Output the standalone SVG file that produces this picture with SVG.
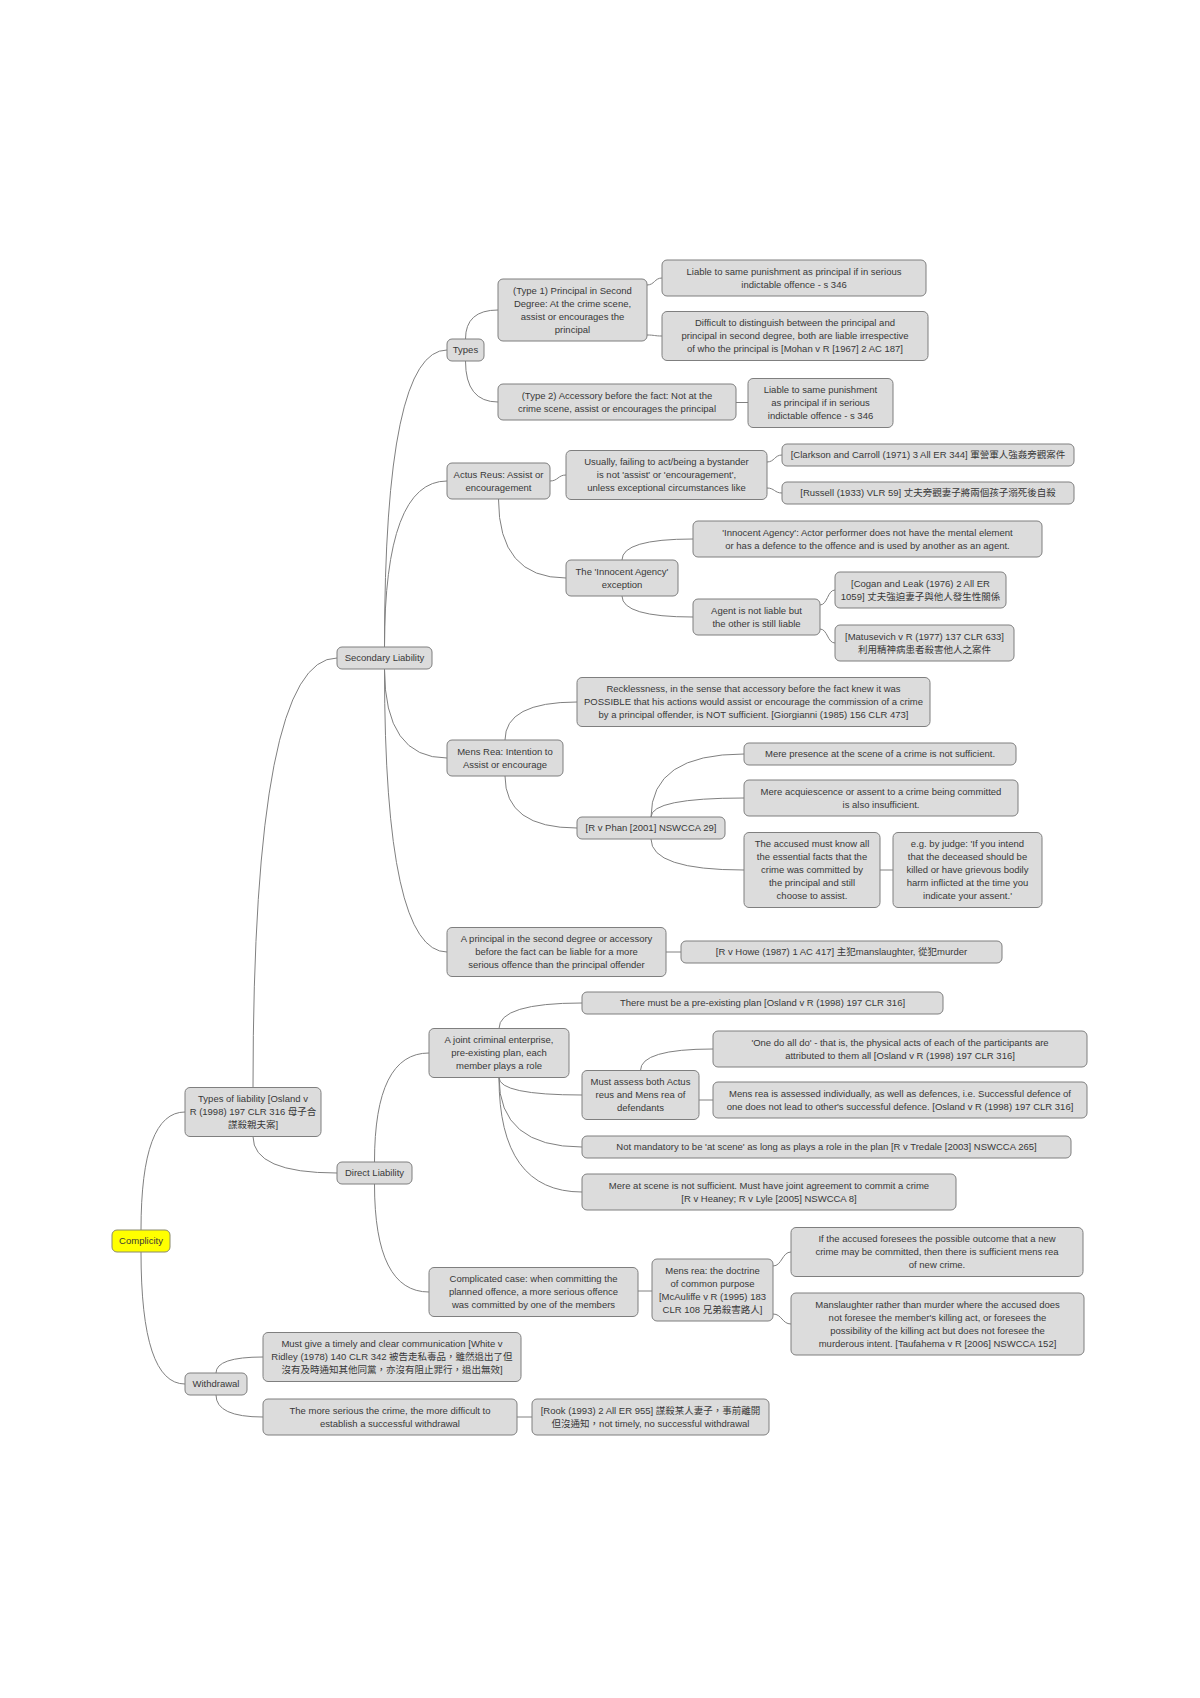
<svg xmlns="http://www.w3.org/2000/svg" width="1200" height="1698" viewBox="0 0 1200 1698">
<style>
.n rect{fill:#dcdcdc;stroke:#7f7f7f;stroke-width:1}
.root rect{fill:#ffff00;stroke:#8a8a6a;stroke-width:1}
text{font-family:"Liberation Sans","Noto Sans CJK TC",sans-serif;font-size:9.5px;fill:#383838;text-anchor:middle}
.c path{fill:none;stroke:#808080;stroke-width:1}
</style>
<rect width="1200" height="1698" fill="#ffffff"/>
<g class="c" id="connectors">
<path d="M141,1230 Q141,1112 185,1112"/>
<path d="M141,1252 Q141,1384 185,1384"/>
<path d="M253,1087.5 Q253,658 337,658"/>
<path d="M253,1136.5 Q253,1173 337,1173"/>
<path d="M384.5,647 Q384.5,350 447,350"/>
<path d="M384.5,647 Q384.5,481 447,481"/>
<path d="M384.5,669 Q384.5,758 447,758"/>
<path d="M384.5,669 Q384.5,952 447,952"/>
<path d="M465.5,339 Q465.5,310 498,310"/>
<path d="M465.5,361 Q465.5,402 498,402"/>
<path d="M647,285 C654.5,285 654.5,278 662,278"/>
<path d="M647,335 C654.5,335 654.5,336 662,336"/>
<path d="M736,402.5 L748,402.5"/>
<path d="M550,481 C558,481 558,475 566,475"/>
<path d="M498.5,499 Q498.5,578 566,578"/>
<path d="M767,462 C774.5,462 774.5,455 782,455"/>
<path d="M767,488 C774.5,488 774.5,493 782,493"/>
<path d="M622,560 Q622,539 693,539"/>
<path d="M622,596 Q622,617 693,617"/>
<path d="M820,605 C827.5,605 827.5,590 835,590"/>
<path d="M820,629 C827.5,629 827.5,643 835,643"/>
<path d="M505,740 Q505,702 577,702"/>
<path d="M505,776 Q505,828 577,828"/>
<path d="M651,817 Q651,754 744,754"/>
<path d="M651,817 Q651,798 744,798"/>
<path d="M651,839 Q651,870 744,870"/>
<path d="M880,870 L893,870"/>
<path d="M666,952 L681,952"/>
<path d="M374.5,1162 Q374.5,1053 429,1053"/>
<path d="M374.5,1184 Q374.5,1292 429,1292"/>
<path d="M499,1028.5 Q499,1003 582,1003"/>
<path d="M499,1077.5 Q499,1095 582,1095"/>
<path d="M499,1077.5 Q499,1147 582,1147"/>
<path d="M499,1077.5 Q499,1192 582,1192"/>
<path d="M640.5,1070.5 Q640.5,1049 713,1049"/>
<path d="M699,1100 L713,1100"/>
<path d="M638,1291 L652,1291"/>
<path d="M773,1266 C782,1266 782,1252 791,1252"/>
<path d="M773,1314 C782,1314 782,1324 791,1324"/>
<path d="M216,1373 Q216,1357 263,1357"/>
<path d="M216,1395 Q216,1417 263,1417"/>
<path d="M517,1417 L532,1417"/>
</g>
<g class="n root" id="complicity"><rect x="112" y="1230" width="58" height="22" rx="5"/><text x="141" y="1244">Complicity</text></g>
<g class="n" id="types-of-liability"><rect x="185" y="1087.5" width="136" height="49" rx="5"/><text x="253" y="1102">Types of liability [Osland v</text><text x="253" y="1115">R (1998) 197 CLR 316 母子合</text><text x="253" y="1128">謀殺親夫案]</text></g>
<g class="n" id="withdrawal"><rect x="185" y="1373" width="62" height="22" rx="5"/><text x="216" y="1387">Withdrawal</text></g>
<g class="n" id="secondary"><rect x="337" y="647" width="95" height="22" rx="5"/><text x="384.5" y="661">Secondary Liability</text></g>
<g class="n" id="direct"><rect x="337" y="1162" width="75" height="22" rx="5"/><text x="374.5" y="1176">Direct Liability</text></g>
<g class="n" id="types"><rect x="447" y="339" width="37" height="22" rx="5"/><text x="465.5" y="353">Types</text></g>
<g class="n" id="type1"><rect x="498" y="279" width="149" height="62" rx="5"/><text x="572.5" y="293.5">(Type 1) Principal in Second</text><text x="572.5" y="306.5">Degree: At the crime scene,</text><text x="572.5" y="319.5">assist or encourages the</text><text x="572.5" y="332.5">principal</text></g>
<g class="n" id="liable1"><rect x="662" y="260" width="264" height="36" rx="5"/><text x="794" y="274.5">Liable to same punishment as principal if in serious</text><text x="794" y="287.5">indictable offence - s 346</text></g>
<g class="n" id="difficult"><rect x="662" y="311.5" width="266" height="49" rx="5"/><text x="795" y="326">Difficult to distinguish between the principal and</text><text x="795" y="339">principal in second degree, both are liable irrespective</text><text x="795" y="352">of who the principal is [Mohan v R [1967] 2 AC 187]</text></g>
<g class="n" id="type2"><rect x="498" y="384" width="238" height="36" rx="5"/><text x="617" y="398.5">(Type 2) Accessory before the fact: Not at the</text><text x="617" y="411.5">crime scene, assist or encourages the principal</text></g>
<g class="n" id="type2-liable"><rect x="748" y="378.5" width="145" height="49" rx="5"/><text x="820.5" y="393">Liable to same punishment</text><text x="820.5" y="406">as principal if in serious</text><text x="820.5" y="419">indictable offence - s 346</text></g>
<g class="n" id="actus"><rect x="447" y="463" width="103" height="36" rx="5"/><text x="498.5" y="477.5">Actus Reus: Assist or</text><text x="498.5" y="490.5">encouragement</text></g>
<g class="n" id="usually"><rect x="566" y="450.5" width="201" height="49" rx="5"/><text x="666.5" y="465">Usually, failing to act/being a bystander</text><text x="666.5" y="478">is not 'assist' or 'encouragement',</text><text x="666.5" y="491">unless exceptional circumstances like</text></g>
<g class="n" id="clarkson"><rect x="782" y="444" width="292" height="22" rx="5"/><text x="928" y="458">[Clarkson and Carroll (1971) 3 All ER 344] 軍營軍人強姦旁觀案件</text></g>
<g class="n" id="russell"><rect x="782" y="482" width="292" height="22" rx="5"/><text x="928" y="496">[Russell (1933) VLR 59] 丈夫旁觀妻子將兩個孩子溺死後自殺</text></g>
<g class="n" id="innocent-exception"><rect x="566" y="560" width="112" height="36" rx="5"/><text x="622" y="574.5">The 'Innocent Agency'</text><text x="622" y="587.5">exception</text></g>
<g class="n" id="innocent-def"><rect x="693" y="521" width="349" height="36" rx="5"/><text x="867.5" y="535.5">'Innocent Agency': Actor performer does not have the mental element</text><text x="867.5" y="548.5">or has a defence to the offence and is used by another as an agent.</text></g>
<g class="n" id="agent"><rect x="693" y="599" width="127" height="36" rx="5"/><text x="756.5" y="613.5">Agent is not liable but</text><text x="756.5" y="626.5">the other is still liable</text></g>
<g class="n" id="cogan"><rect x="835" y="572" width="171" height="36" rx="5"/><text x="920.5" y="586.5">[Cogan and Leak (1976) 2 All ER</text><text x="920.5" y="599.5">1059] 丈夫強迫妻子與他人發生性關係</text></g>
<g class="n" id="matusevich"><rect x="835" y="625" width="179" height="36" rx="5"/><text x="924.5" y="639.5">[Matusevich v R (1977) 137 CLR 633]</text><text x="924.5" y="652.5">利用精神病患者殺害他人之案件</text></g>
<g class="n" id="mens-rea"><rect x="447" y="740" width="116" height="36" rx="5"/><text x="505" y="754.5">Mens Rea: Intention to</text><text x="505" y="767.5">Assist or encourage</text></g>
<g class="n" id="recklessness"><rect x="577" y="677.5" width="353" height="49" rx="5"/><text x="753.5" y="692">Recklessness, in the sense that accessory before the fact knew it was</text><text x="753.5" y="705">POSSIBLE that his actions would assist or encourage the commission of a crime</text><text x="753.5" y="718">by a principal offender, is NOT sufficient. [Giorgianni (1985) 156 CLR 473]</text></g>
<g class="n" id="phan"><rect x="577" y="817" width="148" height="22" rx="5"/><text x="651" y="831">[R v Phan [2001] NSWCCA 29]</text></g>
<g class="n" id="mere-presence"><rect x="744" y="743" width="272" height="22" rx="5"/><text x="880" y="757">Mere presence at the scene of a crime is not sufficient.</text></g>
<g class="n" id="mere-acquiescence"><rect x="744" y="780" width="274" height="36" rx="5"/><text x="881" y="794.5">Mere acquiescence or assent to a crime being committed</text><text x="881" y="807.5">is also insufficient.</text></g>
<g class="n" id="accused-know"><rect x="744" y="832.5" width="136" height="75" rx="5"/><text x="812" y="847">The accused must know all</text><text x="812" y="860">the essential facts that the</text><text x="812" y="873">crime was committed by</text><text x="812" y="886">the principal and still</text><text x="812" y="899">choose to assist.</text></g>
<g class="n" id="eg"><rect x="893" y="832.5" width="149" height="75" rx="5"/><text x="967.5" y="847">e.g. by judge: 'If you intend</text><text x="967.5" y="860">that the deceased should be</text><text x="967.5" y="873">killed or have grievous bodily</text><text x="967.5" y="886">harm inflicted at the time you</text><text x="967.5" y="899">indicate your assent.'</text></g>
<g class="n" id="a-principal"><rect x="447" y="927.5" width="219" height="49" rx="5"/><text x="556.5" y="942">A principal in the second degree or accessory</text><text x="556.5" y="955">before the fact can be liable for a more</text><text x="556.5" y="968">serious offence than the principal offender</text></g>
<g class="n" id="howe"><rect x="681" y="941" width="321" height="22" rx="5"/><text x="841.5" y="955">[R v Howe (1987) 1 AC 417] 主犯manslaughter, 從犯murder</text></g>
<g class="n" id="joint"><rect x="429" y="1028.5" width="140" height="49" rx="5"/><text x="499" y="1043">A joint criminal enterprise,</text><text x="499" y="1056">pre-existing plan, each</text><text x="499" y="1069">member plays a role</text></g>
<g class="n" id="pre-existing"><rect x="582" y="992" width="361" height="22" rx="5"/><text x="762.5" y="1006">There must be a pre-existing plan [Osland v R (1998) 197 CLR 316]</text></g>
<g class="n" id="must-assess"><rect x="582" y="1070.5" width="117" height="49" rx="5"/><text x="640.5" y="1085">Must assess both Actus</text><text x="640.5" y="1098">reus and Mens rea of</text><text x="640.5" y="1111">defendants</text></g>
<g class="n" id="one-do"><rect x="713" y="1031" width="374" height="36" rx="5"/><text x="900" y="1045.5">'One do all do' - that is, the physical acts of each of the participants are</text><text x="900" y="1058.5">attributed to them all [Osland v R (1998) 197 CLR 316]</text></g>
<g class="n" id="mens-rea-individual"><rect x="713" y="1082" width="374" height="36" rx="5"/><text x="900" y="1096.5">Mens rea is assessed individually, as well as defences, i.e. Successful defence of</text><text x="900" y="1109.5">one does not lead to other's successful defence. [Osland v R (1998) 197 CLR 316]</text></g>
<g class="n" id="not-mandatory"><rect x="582" y="1136" width="489" height="22" rx="5"/><text x="826.5" y="1150">Not mandatory to be 'at scene' as long as plays a role in the plan [R v Tredale [2003] NSWCCA 265]</text></g>
<g class="n" id="mere-at-scene"><rect x="582" y="1174" width="374" height="36" rx="5"/><text x="769" y="1188.5">Mere at scene is not sufficient. Must have joint agreement to commit a crime</text><text x="769" y="1201.5">[R v Heaney; R v Lyle [2005] NSWCCA 8]</text></g>
<g class="n" id="complicated"><rect x="429" y="1267.5" width="209" height="49" rx="5"/><text x="533.5" y="1282">Complicated case: when committing the</text><text x="533.5" y="1295">planned offence, a more serious offence</text><text x="533.5" y="1308">was committed by one of the members</text></g>
<g class="n" id="common-purpose"><rect x="652" y="1259" width="121" height="62" rx="5"/><text x="712.5" y="1273.5">Mens rea: the doctrine</text><text x="712.5" y="1286.5">of common purpose</text><text x="712.5" y="1299.5">[McAuliffe v R (1995) 183</text><text x="712.5" y="1312.5">CLR 108 兄弟殺害路人]</text></g>
<g class="n" id="foresees"><rect x="791" y="1227.5" width="292" height="49" rx="5"/><text x="937" y="1242">If the accused foresees the possible outcome that a new</text><text x="937" y="1255">crime may be committed, then there is sufficient mens rea</text><text x="937" y="1268">of new crime.</text></g>
<g class="n" id="manslaughter"><rect x="791" y="1293" width="293" height="62" rx="5"/><text x="937.5" y="1307.5">Manslaughter rather than murder where the accused does</text><text x="937.5" y="1320.5">not foresee the member's killing act, or foresees the</text><text x="937.5" y="1333.5">possibility of the killing act but does not foresee the</text><text x="937.5" y="1346.5">murderous intent. [Taufahema v R [2006] NSWCCA 152]</text></g>
<g class="n" id="timely"><rect x="263" y="1332.5" width="258" height="49" rx="5"/><text x="392" y="1347">Must give a timely and clear communication [White v</text><text x="392" y="1360">Ridley (1978) 140 CLR 342 被告走私毒品，雖然退出了但</text><text x="392" y="1373">沒有及時通知其他同黨，亦沒有阻止罪行，退出無效]</text></g>
<g class="n" id="more-serious"><rect x="263" y="1399" width="254" height="36" rx="5"/><text x="390" y="1413.5">The more serious the crime, the more difficult to</text><text x="390" y="1426.5">establish a successful withdrawal</text></g>
<g class="n" id="rook"><rect x="532" y="1399" width="237" height="36" rx="5"/><text x="650.5" y="1413.5">[Rook (1993) 2 All ER 955] 謀殺某人妻子，事前離開</text><text x="650.5" y="1426.5">但沒通知，not timely, no successful withdrawal</text></g>
</svg>
